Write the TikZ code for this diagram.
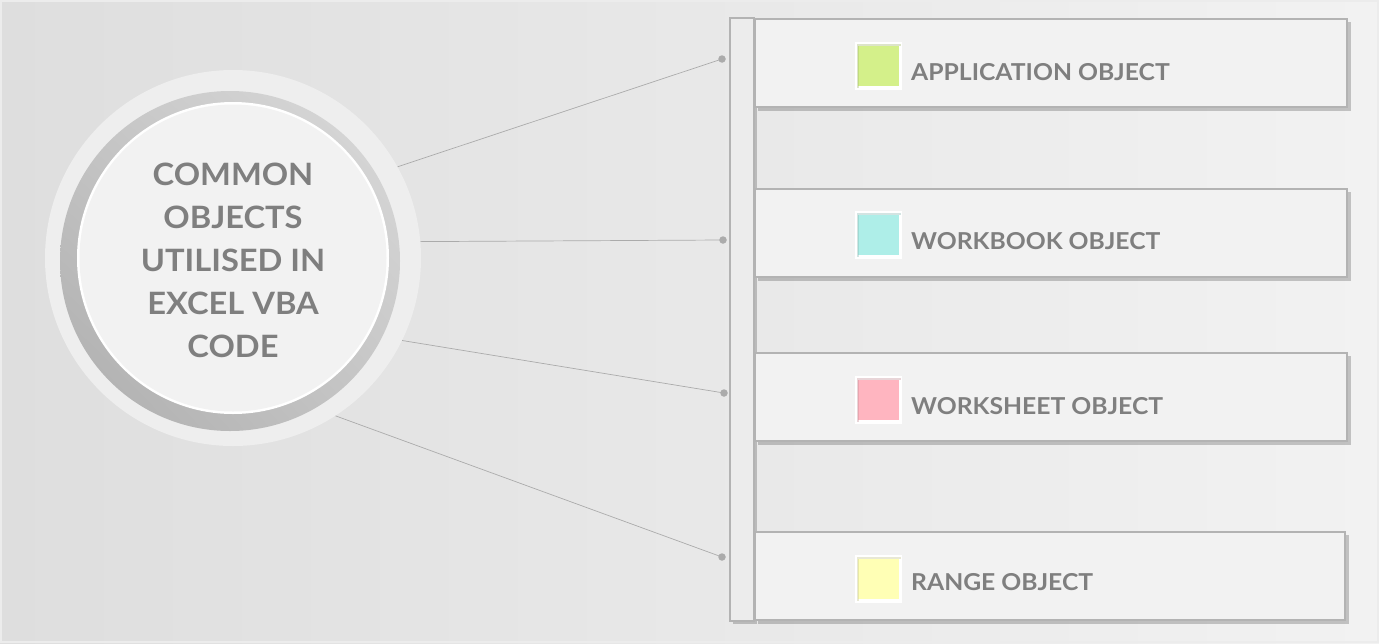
\documentclass[tikz,border=0pt]{standalone}
\usepackage{fontspec}
\setmainfont{Lato}[FakeStretch=1.06]
\usetikzlibrary{shadings}
\pgfdeclarelayer{back}
\pgfdeclarelayer{shadowlayer}
\pgfsetlayers{back,shadowlayer,main}
\definecolor{bgL}{HTML}{DEDEDE}
\definecolor{bgR}{HTML}{F2F2F2}
\definecolor{halo}{HTML}{EEEEEE}
\definecolor{ringD}{HTML}{ADADAD}
\definecolor{ringL}{HTML}{DADADA}
\definecolor{face}{HTML}{F2F2F2}
\definecolor{txt}{HTML}{7F7F7F}
\definecolor{edge}{HTML}{B3B3B3}
\definecolor{lin}{HTML}{ABABAB}
\definecolor{cA}{HTML}{D4F08A}
\definecolor{cB}{HTML}{AEEEE8}
\definecolor{cC}{HTML}{FFB5C0}
\definecolor{cD}{HTML}{FFFFB5}
\tikzset{
  objbox/.style={draw=edge, line width=1.6pt, fill=face, anchor=north west,
    minimum width=592pt, minimum height=88pt, inner sep=0pt},
  boxshadow/.style={fill=black, opacity=.2},
  sqbox/.style={draw=white, line width=3.5pt, minimum size=44pt, inner sep=0pt},
  objlabel/.style={anchor=base west, text=txt, font=\fontsize{23.3}{26}\selectfont\bfseries, inner sep=0pt},
  dotnode/.style={circle, fill=lin, minimum size=7.5pt, inner sep=0pt},
  connector/.style={draw=lin, line width=0.7pt}
}
\begin{document}
\begin{tikzpicture}[x=1pt,y=-1pt]
  % background
  \begin{pgfonlayer}{back}
  \shade[left color=bgL, right color=bgR] (0,0) rectangle (1379,643);
  \draw[draw=white!85!gray, line width=2pt] (1,1) rectangle (1378,642);
  \end{pgfonlayer}
  \useasboundingbox (0,0) rectangle (1379,643);

  % central circle
  \node[circle, fill=halo, minimum size=376pt, inner sep=0pt] (main) at (233,258) {};
  \shade[upper right=ringL, lower left=ringD, upper left=ringD!45!ringL, lower right=ringD!45!ringL]
    (230,261) circle[radius=170];
  \fill[white] (233,258) circle[radius=156];
  \fill[face] (233,258) circle[radius=153.5];
  \node[align=center, text=txt, font=\fontsize{30.8}{43}\selectfont\bfseries] (title) at (233,260)
    {COMMON\\OBJECTS\\UTILISED IN\\EXCEL VBA\\CODE};

  % vertical bar
  \draw[draw=edge, line width=1.6pt, fill=bgR!95!gray] (730,18) rectangle (754,621);

  % boxes
  \node[objbox] (b1) at (754,18) {};
  \node[objbox] (b2) at (754,188) {};
  \node[objbox] (b3) at (754,352) {};
  \node[objbox, minimum width=590pt] (b4) at (754,531) {};
  \begin{pgfonlayer}{shadowlayer}
  \foreach \b in {b1,b2,b3,b4}{
    \fill[boxshadow] ([shift={(3.5pt,-3.5pt)}]\b.north west) rectangle ([shift={(3.5pt,-3.5pt)}]\b.south east);
  }
  \fill[boxshadow] (733,24) rectangle (757,624);
  \end{pgfonlayer}

  % colour squares
  \node[sqbox, fill=cA] (s1) at (878.5,66) {};
  \node[sqbox, fill=cB] (s2) at (878.5,235) {};
  \node[sqbox, fill=cC] (s3) at (878.5,400) {};
  \node[sqbox, fill=cD] (s4) at (878.5,579) {};
  \foreach \s/\c in {s1/cA,s2/cB,s3/cC,s4/cD}{
    \fill[\c!75!black, opacity=.35] ([shift={(1.75pt,-1.75pt)}]\s.north west) rectangle ([shift={(4pt,1.75pt)}]\s.south west);
    \fill[\c!75!black, opacity=.35] ([shift={(4pt,-1.75pt)}]\s.north west) rectangle ([shift={(-1.75pt,-4pt)}]\s.north east);
  }

  % labels
  \node[objlabel] (l1) at (911,80) {APPLICATION OBJECT};
  \node[objlabel] (l2) at (911,249) {WORKBOOK OBJECT};
  \node[objlabel] (l3) at (911,414) {WORKSHEET OBJECT};
  \node[objlabel] (l4) at (911,590) {RANGE OBJECT};

  % dots and connectors
  \node[dotnode] (d1) at (722,59) {};
  \node[dotnode] (d2) at (723,240) {};
  \node[dotnode] (d3) at (724,393) {};
  \node[dotnode] (d4) at (722,557) {};
  \draw[connector] (main.29) -- (d1.center);
  \draw[connector] (main.5.5) -- (d2.center);
  \draw[connector] (main.-26) -- (d3.center);
  \draw[connector] (main.-57) -- (d4.center);
\end{tikzpicture}
\end{document}
